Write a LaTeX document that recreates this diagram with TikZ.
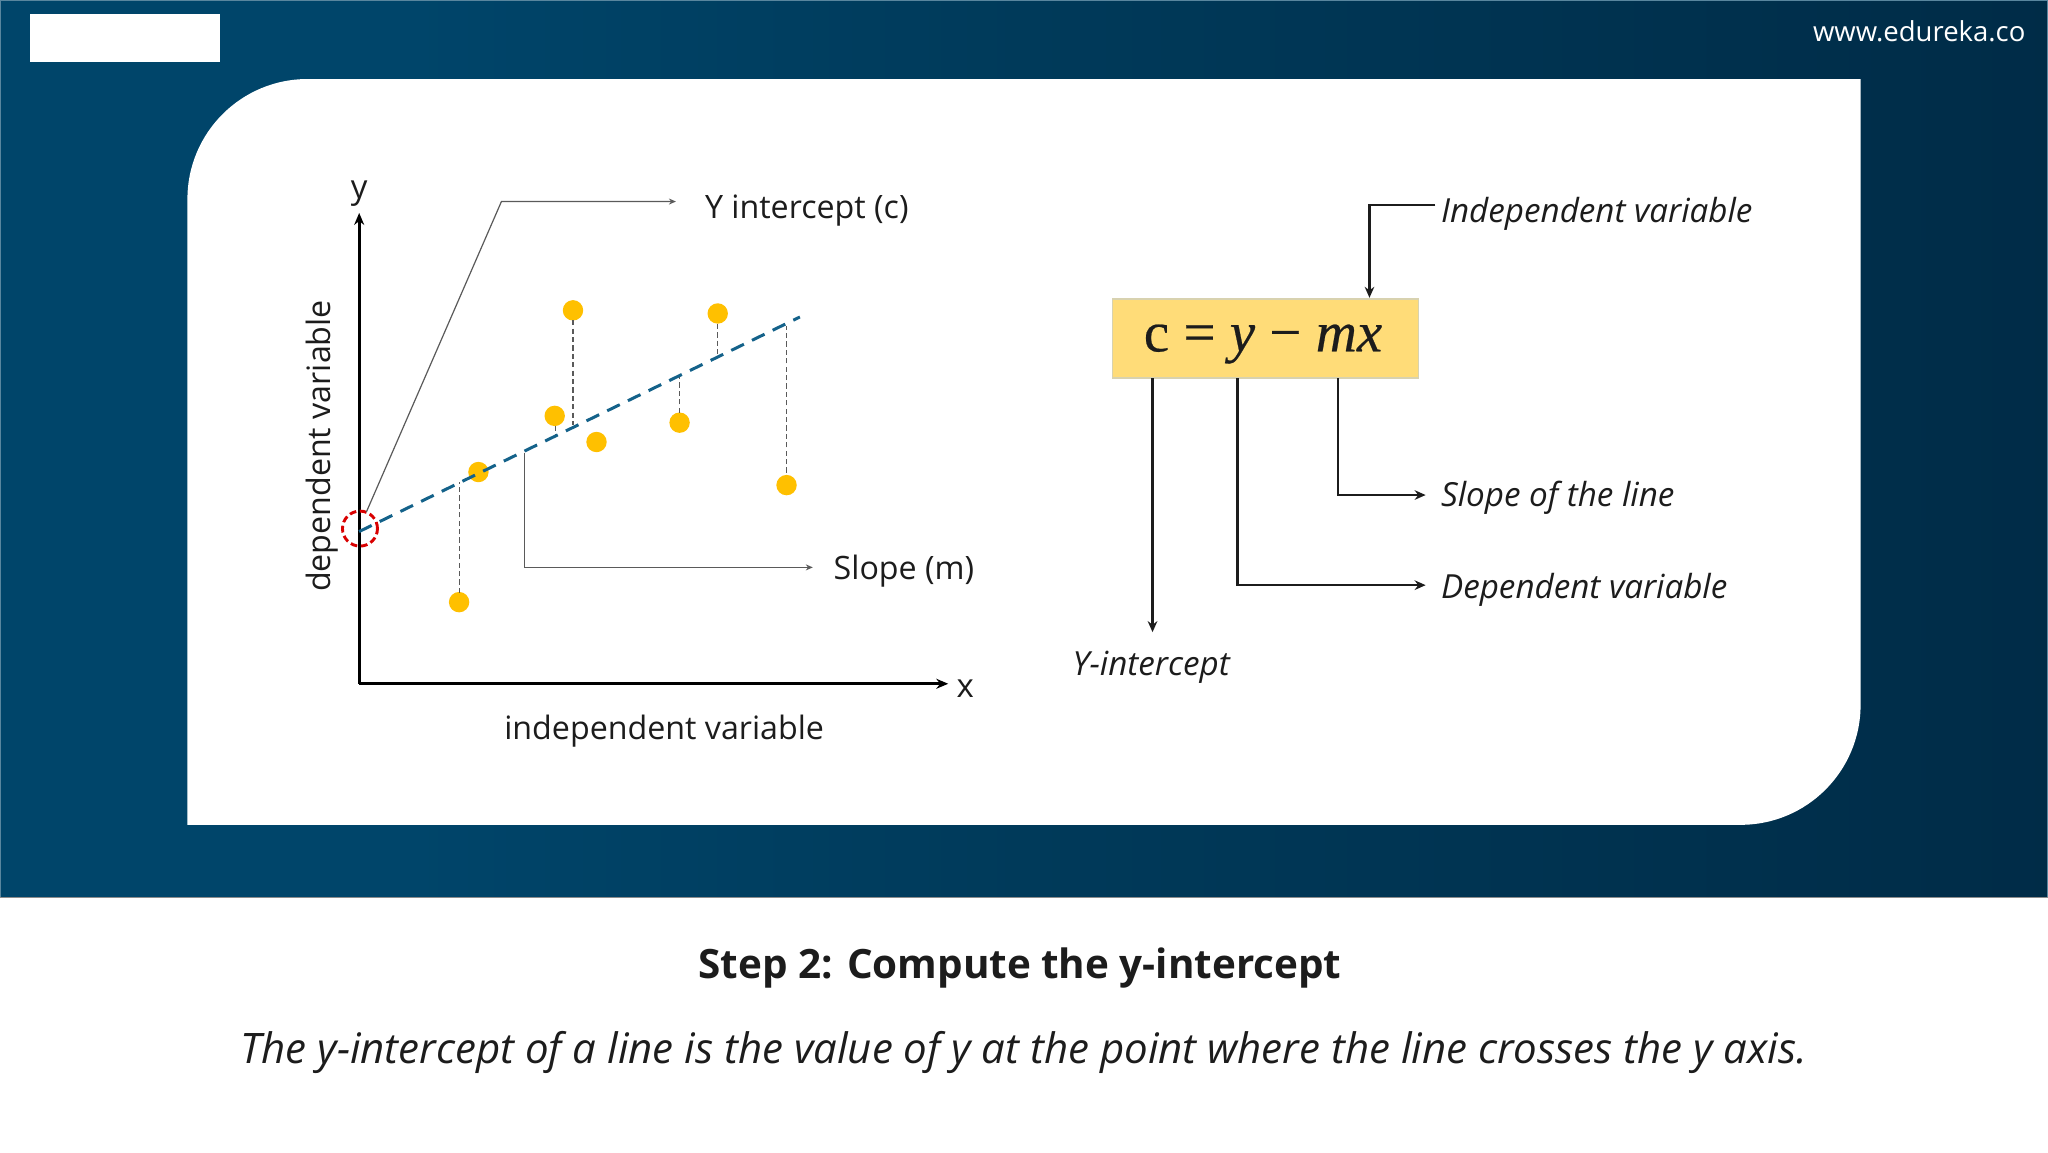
\documentclass[tikz,border=0pt]{standalone}
\usepackage{fontspec}
\setmainfont{Open Sans}
\newfontfamily\eqfont[FakeBold=0.4]{Liberation Serif}
\usetikzlibrary{arrows.meta}
\definecolor{inkc}{HTML}{1C1C1C}
\definecolor{leaderc}{HTML}{5A5A5A}
\definecolor{dotc}{HTML}{FFC000}
\definecolor{linec}{HTML}{14628A}
\definecolor{boxc}{HTML}{FFDC78}
\definecolor{boxb}{HTML}{D8D2B0}
\definecolor{bgl}{HTML}{00456A}
\definecolor{bgm}{HTML}{003A5A}
\definecolor{bgn}{HTML}{002A45}
\definecolor{bgr}{HTML}{00223A}
\pgfdeclarehorizontalshading{bgshade}{100bp}{
  color(0bp)=(bgl); color(25bp)=(bgl); color(35bp)=(bgl); color(50bp)=(bgm); color(78bp)=(bgn); color(100bp)=(bgr)}
\tikzset{
  dotp/.style={circle,fill=dotc,inner sep=0pt,minimum size=10.2pt},
  axis/.style={draw=black,line width=1.35pt,-{Stealth[length=6pt,width=5pt]}},
  leader/.style={draw=leaderc,line width=.6pt,-{Stealth[length=3.5pt,width=3pt]}},
  resid/.style={draw=leaderc,line width=.6pt,dash pattern=on 2.6pt off 1.6pt},
  fit/.style={draw=linec,line width=1.5pt,dash pattern=on 7pt off 4.5pt},
  eqarrow/.style={draw=inkc,line width=1.25pt,-{Stealth[length=5.5pt,width=4.8pt]}},
  lab/.style={inner sep=0pt,anchor=base west,text=inkc,font=\fontsize{16.1}{19}\selectfont},
  ilab/.style={lab,font=\fontsize{16.6}{19}\selectfont\itshape},
}
\begin{document}
\begin{tikzpicture}[x=0.65306pt,y=-0.65306pt]
\useasboundingbox (0,0) rectangle (1568,882);
\fill[white] (0,0) rectangle (1568,882);
\shade[shading=bgshade] (0,0) rectangle (1568,687);
\draw[draw=white!35!bgl,line width=.4pt] (0.4,687) -- (0.4,0.5) -- (1567.6,0.5) -- (1567.6,687);
\draw[draw=black!45,line width=.5pt] (0,687) -- (1568,687);
\fill[white] (23,10.5) rectangle (168.5,47.5);
\fill[white] (143.5,631.5) [rounded corners=60pt] -- (143.5,60.5) [sharp corners] -- (1424.5,60.5) [rounded corners=60pt] -- (1424.5,631.5) [sharp corners] -- cycle;
\node[inner sep=0pt,anchor=base east,text=white,font=\fontsize{13.75}{17}\selectfont] (site) at (1551,31.6) {www.edureka.co};

% left chart
\coordinate (org) at (275,523.5);
\coordinate (ytip) at (275,163);
\coordinate (xtip) at (726,523.5);
\draw[axis] (org) -- (ytip);
\draw[axis] (org) -- (xtip);
\node[lab,anchor=center,font=\fontsize{16.5}{20}\selectfont] (ylab) at (275,148) {y};
\node[lab,anchor=center,font=\fontsize{16.5}{20}\selectfont] (xlab) at (739,527.5) {x};
\node[lab,anchor=base] (xname) at (508.5,566) {independent variable};
\node[lab,anchor=base,rotate=90] (yname) at (253,341.5) {dependent variable};

\coordinate (fitA) at (274.9,407);
\coordinate (fitB) at (612.4,242.7);
\node[dotp] (d1) at (438.7,237.6) {};
\node[dotp] (d2) at (549.5,240) {};
\node[dotp] (d3) at (424.7,318.4) {};
\node[dotp] (d4) at (456.7,338.4) {};
\node[dotp] (d5) at (520.3,323.6) {};
\node[dotp] (d6) at (366.3,361.4) {};
\node[dotp] (d7) at (602.2,371.4) {};
\node[dotp] (d8) at (351.5,461) {};
\coordinate (r1) at (438.7,325.4);
\coordinate (r2) at (549.5,272.4);
\coordinate (r3) at (425.4,333);
\coordinate (r5) at (520.3,287.5);
\coordinate (r7) at (602.2,249.7);
\coordinate (r8) at (351.5,369.3);
\draw[resid] (d1) ++(0,7.6) -- (r1);
\draw[resid] (d2) ++(0,8) -- (r2);
\draw[resid] (d3) ++(0.7,7.6) -- (r3);
\draw[resid] (d5) ++(0,-7.6) -- (r5);
\draw[resid] (d7) ++(0,-9.6) -- (r7);
\draw[resid] (d8) ++(0,-7) -- (r8);
\draw[fit] (fitA) -- (fitB);
\node[circle,draw=red!85!black,line width=1.45pt,dash pattern=on 3.4pt off 1.8pt,inner sep=0pt,minimum size=17.5pt] (ring) at (275.6,404.7) {};

\node[lab] (ic) at (539.5,167.5) {Y intercept (c)};
\node[lab] (sm) at (638,444) {Slope (m)};
\coordinate (l1a) at (280.5,392);
\coordinate (l1b) at (383.9,154.3);
\coordinate (l1c) at (517.5,154.3);
\draw[leader] (l1a) -- (l1b) -- (l1c);
\coordinate (l2a) at (401.8,346.6);
\coordinate (l2b) at (401.8,434.4);
\coordinate (l2c) at (622.3,434.4);
\draw[leader] (l2a) -- (l2b) -- (l2c);

% right equation
\node[draw=boxb,fill=boxc,line width=.7pt,inner sep=0pt,minimum width=153pt,minimum height=39.5pt] (eq) at (968.75,259.25) {};
\node[inner sep=0pt,text=inkc,anchor=base,font=\eqfont\fontsize{28.5}{32}\selectfont] (eqt) at (967,269) {c = {\itshape y} − {\itshape mx}};
\node[ilab] (iv) at (1103,170.4) {Independent variable};
\node[ilab] (sl) at (1103,388) {Slope of the line};
\node[ilab] (dv) at (1103,458.5) {Dependent variable};
\node[ilab] (yi) at (821,517.5) {Y-intercept};
\coordinate (a1) at (1099,157);
\coordinate (a2) at (1048.5,157);
\coordinate (a3) at (1048.5,228);
\draw[eqarrow] (a1) -- (a2) -- (a3);
\coordinate (b1) at (1024.5,289.5);
\coordinate (b2) at (1024.5,379);
\coordinate (b3) at (1091.5,379);
\draw[eqarrow] (b1) -- (b2) -- (b3);
\coordinate (c1) at (947.6,289.5);
\coordinate (c2) at (947.6,448);
\coordinate (c3) at (1091.5,448);
\draw[eqarrow] (c1) -- (c2) -- (c3);
\coordinate (e1) at (882.4,289.5);
\coordinate (e2) at (882.4,484);
\draw[eqarrow] (e1) -- (e2);

% caption
\node[inner sep=0pt,anchor=base,text=inkc,font=\fontsize{20.2}{25}\selectfont\bfseries] (title) at (781,749) {Step 2: Compute the y-intercept};
\node[inner sep=0pt,anchor=base,text=inkc,font=\fontsize{21}{25}\selectfont\itshape] (desc) at (784,814.5) {The y-intercept of a line is the value of y at the point where the line crosses the y axis.};
\end{tikzpicture}
\end{document}
